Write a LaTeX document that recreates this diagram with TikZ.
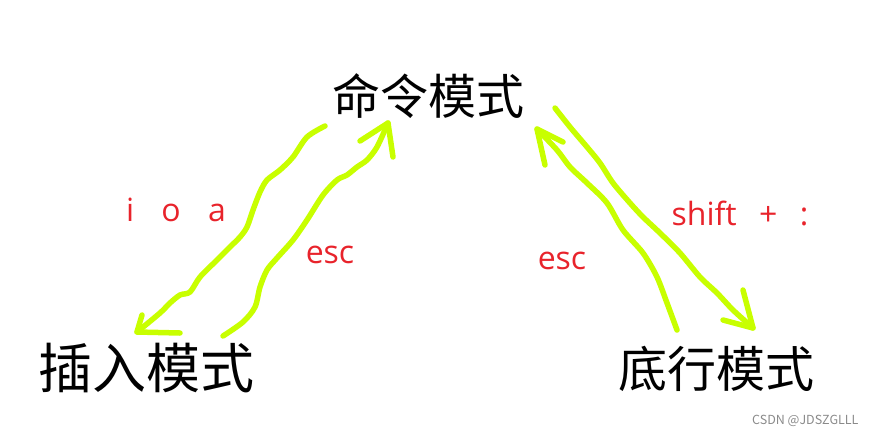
\documentclass[tikz,border=0pt]{standalone}
\usepackage{fontspec}
\setmainfont{Noto Sans CJK SC}
\newfontfamily\keyfont{Open Sans}
\usepackage{xcolor}
\usepackage{tikz}
\usetikzlibrary{positioning}
\definecolor{penlime}{HTML}{C8FF00}
\definecolor{keyred}{HTML}{E8232B}
\definecolor{markgray}{HTML}{8A8A8A}

\begin{document}
\begin{tikzpicture}[x=1pt, y=-1pt, mode/.style={font=\fontsize{48}{52}\selectfont, text=black, inner sep=0pt}, key/.style={font=\keyfont\fontsize{32}{36}\selectfont, text=keyred, inner sep=0pt}, hand/.style={draw=penlime, line width=5.5pt, line cap=round, line join=round}]
\useasboundingbox (0,0) rectangle (878,437);
\node[mode] (cmd) at (428,96) {命令模式};
\node[mode, font=\fontsize{54}{58}\selectfont] (ins) at (146,368) {插入模式};
\node[mode, font=\fontsize{49}{53}\selectfont] (last) at (716,369) {底行模式};
\node[key] (ioa) at (176,210) {i\hspace{0.85em}o\hspace{0.85em}a};
\node[key] (escl) at (330,255) {esc};
\node[key] (escr) at (562,261) {esc};
\node[key] (shift) at (740,213) {shift\hspace{0.7em}+\hspace{0.7em}:};
\node[font=\fontsize{12.5}{14}\selectfont, text=markgray, anchor=east] (mark) at (862,421) {CSDN @JDSZGLLL};
% cmd -> ins
\coordinate (ins-in) at (137,332);
\draw[hand] plot[smooth, tension=0.5] coordinates {(325,126) (307,137) (293,157) (280,170) (267,180) (260,192) (253,210) (247,227) (240,237) (230,247) (217,260) (200,277) (190,292) (180,295) (170,303) (160,313) (ins-in)};
\draw[hand] (142,315) -- (ins-in) -- (180,333);
% ins -> cmd
\coordinate (cmd-inl) at (388,123);
\draw[hand] plot[smooth, tension=0.5] coordinates {(223,336) (243,322) (255,307) (260,287) (267,270) (277,258) (293,240) (307,220) (323,195) (337,180) (347,175) (357,167) (367,160) (377,147) (cmd-inl)};
\draw[hand] (360,141) -- (cmd-inl) -- (393,157);
% last -> cmd
\coordinate (cmd-inr) at (537,129);
\draw[hand] plot[smooth, tension=0.5] coordinates {(677,330) (667,303) (657,277) (643,253) (623,230) (607,203) (587,183) (570,167) (557,150) (cmd-inr)};
\draw[hand] (563,142) -- (cmd-inr) -- (545,165);
% cmd -> last
\coordinate (last-in) at (753,328);
\draw[hand] plot[smooth, tension=0.5] coordinates {(555,108) (570,127) (587,147) (600,163) (613,183) (630,203) (643,217) (660,233) (680,253) (700,277) (717,293) (733,310) (last-in)};
\draw[hand] (743,290) -- (last-in) -- (723,320);
\end{tikzpicture}
\end{document}
